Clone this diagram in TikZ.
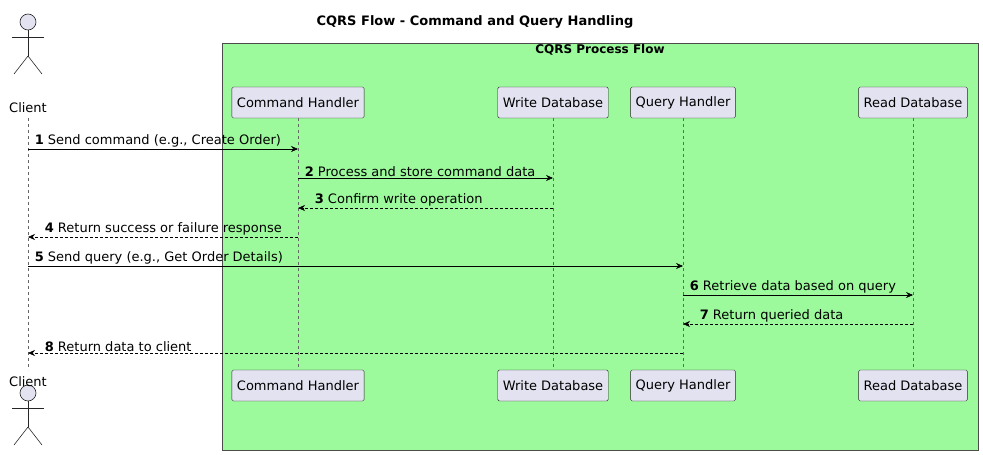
\documentclass[tikz,border=0pt]{standalone}
\usepackage{fontspec}
\setmainfont{DejaVu Sans}
\usetikzlibrary{arrows.meta}
\definecolor{partfill}{HTML}{E2E2F0}
\definecolor{boxfill}{HTML}{9CFA9C}
\begin{document}
\begin{tikzpicture}[%
        x = 1pt, y = -1pt,
        >/.tip = {Stealth[length=7pt, width=6pt]},
        part/.style = {draw = black!85, fill = partfill, rounded corners = 1.5pt,
            minimum height = 31pt, inner xsep = 5pt, font = \fontsize{13}{15}\selectfont},
        life/.style = {draw = black!60, dash pattern = on 3pt off 3pt, line width = 0.5pt},
        msg/.style = {->, line width = 0.6pt},
        reply/.style = {msg, dash pattern = on 3pt off 2pt},
        lbl/.style = {above, inner sep = 1.5pt, font = \fontsize{13}{15}\selectfont}
    ]
        \useasboundingbox (0, 0) rectangle (983, 455);

        % Title and grouping box.
        \node[font = \bfseries\fontsize{13}{15}\selectfont] (title) at (475, 22)
            {CQRS Flow - Command and Query Handling};
        \draw[draw = black!70, fill = boxfill] (222, 43) rectangle (978, 450);
        \node[font = \bfseries\fontsize{12}{14}\selectfont] (boxtitle) at (600, 50) {CQRS Process Flow};

        % Participants.
        \foreach \name/\x/\txt in {ch/298/Command Handler, wd/553/Write Database,
                qh/683/Query Handler, rd/913/Read Database}{%
            \draw[life] (\x, 118) -- (\x, 370);
            \node[part] (\name-top) at (\x, 102.5) {\txt};
            \node[part] (\name-bot) at (\x, 385.5) {\txt};
        }

        % Client actor.
        \draw[life] (28, 118) -- (28, 370);
        \foreach \y/\n in {29/top, 400/bot}{%
            \begin{scope}[draw = black!85, line width = 0.6pt]
                \draw[fill = partfill] (28, \y - 7) circle (8);
                \draw (28, \y + 1) -- (28, \y + 27);
                \draw (12, \y + 8) -- (44, \y + 8);
                \draw (28, \y + 27) -- (14, \y + 45);
                \draw (28, \y + 27) -- (42, \y + 45);
            \end{scope}
        }
        \node[font = \fontsize{13}{15}\selectfont] (cl-top) at (28, 108) {Client};
        \node[font = \fontsize{13}{15}\selectfont] (cl-bot) at (28, 382) {Client};

        % Endpoints on the lifelines.
        \foreach \n/\y in {1/149, 2/178, 3/208, 4/237, 5/266, 6/295, 7/324, 8/353}{%
            \coordinate (cl\n) at (28, \y);
            \coordinate (ch\n) at (298, \y);
            \coordinate (wd\n) at (553, \y);
            \coordinate (qh\n) at (683, \y);
            \coordinate (rd\n) at (913, \y);
        }

        % Messages.
        \draw[msg] (cl1) -- (ch1) node[lbl, pos = 0, anchor = south west, xshift = 5pt] {\textbf{1} Send command (e.g., Create Order)};
        \draw[msg] (ch2) -- (wd2) node[lbl, pos = 0, anchor = south west, xshift = 5pt] {\textbf{2} Process and store command data};
        \draw[reply] (wd3) -- (ch3) node[lbl, pos = 1, anchor = south west, xshift = 15pt] {\textbf{3} Confirm write operation};
        \draw[reply] (ch4) -- (cl4) node[lbl, pos = 1, anchor = south west, xshift = 15pt] {\textbf{4} Return success or failure response};
        \draw[msg] (cl5) -- (qh5) node[lbl, pos = 0, anchor = south west, xshift = 5pt] {\textbf{5} Send query (e.g., Get Order Details)};
        \draw[msg] (qh6) -- (rd6) node[lbl, pos = 0, anchor = south west, xshift = 5pt] {\textbf{6} Retrieve data based on query};
        \draw[reply] (rd7) -- (qh7) node[lbl, pos = 1, anchor = south west, xshift = 15pt] {\textbf{7} Return queried data};
        \draw[reply] (qh8) -- (cl8) node[lbl, pos = 1, anchor = south west, xshift = 15pt] {\textbf{8} Return data to client};
    \end{tikzpicture}
\end{document}
